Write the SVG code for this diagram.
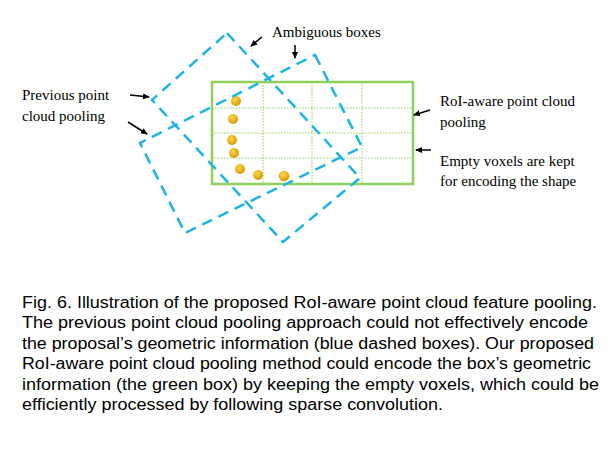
<svg xmlns="http://www.w3.org/2000/svg" width="615" height="471" viewBox="0 0 615 471">
<style>
.lab{font-family:"Liberation Serif",serif;font-size:15px;fill:#000}
.cap{font-family:"Liberation Sans",Arial,sans-serif;font-size:16px;fill:#000}
.box{fill:none;stroke:#1cb4e8;stroke-width:2.5;stroke-dasharray:11,7}
.grid{stroke:#8fd05a;stroke-width:1;stroke-dasharray:1.5,1.5}
.arr{stroke:#000;stroke-width:1.5;marker-end:url(#ah)}
</style>
<defs>
<marker id="ah" markerWidth="8" markerHeight="8" refX="6" refY="4" orient="auto" markerUnits="userSpaceOnUse"><path d="M0,1 L7,4 L0,7 z" fill="#000"/></marker>
<radialGradient id="gd" cx="0.4" cy="0.35" r="0.7"><stop offset="0" stop-color="#ffd84a"/><stop offset="1" stop-color="#d49400"/></radialGradient>
</defs>
<rect width="615" height="471" fill="#fff"/>
<g id="green-box">
<line class="grid" x1="263" y1="82" x2="263" y2="184"/>
<line class="grid" x1="312" y1="82" x2="312" y2="184"/>
<line class="grid" x1="362" y1="82" x2="362" y2="184"/>
<line class="grid" x1="212" y1="108" x2="413" y2="108"/>
<line class="grid" x1="212" y1="133" x2="413" y2="133"/>
<line class="grid" x1="212" y1="158" x2="413" y2="158"/>
<rect x="212" y="82" width="201" height="102" fill="none" stroke="#8fd05a" stroke-width="2.5"/>
</g>
<g id="points" fill="url(#gd)">
<circle cx="236" cy="101" r="5"/><circle cx="233" cy="119" r="5"/><circle cx="232" cy="140" r="5"/><circle cx="234" cy="153" r="5"/><circle cx="240" cy="169" r="5"/><circle cx="258" cy="175" r="5"/><circle cx="284" cy="176" r="5.3"/>
</g>
<g id="box1"><polygon class="box" points="227,33 360,178 283,242 152,100"/></g>
<g id="box2"><polygon class="box" points="315,55 362,147 185,233 140,143"/></g>
<g id="connectors">
<line class="arr" x1="130" y1="95" x2="149" y2="97"/>
<line class="arr" x1="128" y1="122" x2="147" y2="134"/>
<line class="arr" x1="262" y1="37" x2="251" y2="46"/>
<line class="arr" x1="295" y1="45" x2="295" y2="58"/>
<line class="arr" x1="430" y1="110" x2="414" y2="115"/>
<line class="arr" x1="431" y1="150" x2="416" y2="150"/>
</g>
<g id="labels">
<text class="lab" x="272" y="37">Ambiguous boxes</text>
<text class="lab" x="22" y="100">Previous point</text>
<text class="lab" x="22" y="121">cloud pooling</text>
<text class="lab" x="440" y="106">RoI-aware point cloud</text>
<text class="lab" x="440" y="127">pooling</text>
<text class="lab" x="440" y="166">Empty voxels are kept</text>
<text class="lab" x="440" y="186">for encoding the shape</text>
</g>
<g id="caption">
<text class="cap" x="22" y="308" textLength="575" lengthAdjust="spacingAndGlyphs">Fig. 6. Illustration of the proposed RoI-aware point cloud feature pooling.</text>
<text class="cap" x="22" y="328" textLength="566" lengthAdjust="spacingAndGlyphs">The previous point cloud pooling approach could not effectively encode</text>
<text class="cap" x="22" y="349" textLength="572" lengthAdjust="spacingAndGlyphs">the proposal’s geometric information (blue dashed boxes). Our proposed</text>
<text class="cap" x="22" y="369" textLength="569" lengthAdjust="spacingAndGlyphs">RoI-aware point cloud pooling method could encode the box’s geometric</text>
<text class="cap" x="22" y="390" textLength="577" lengthAdjust="spacingAndGlyphs">information (the green box) by keeping the empty voxels, which could be</text>
<text class="cap" x="22" y="410" textLength="421" lengthAdjust="spacingAndGlyphs">efficiently processed by following sparse convolution.</text>
</g>
</svg>
